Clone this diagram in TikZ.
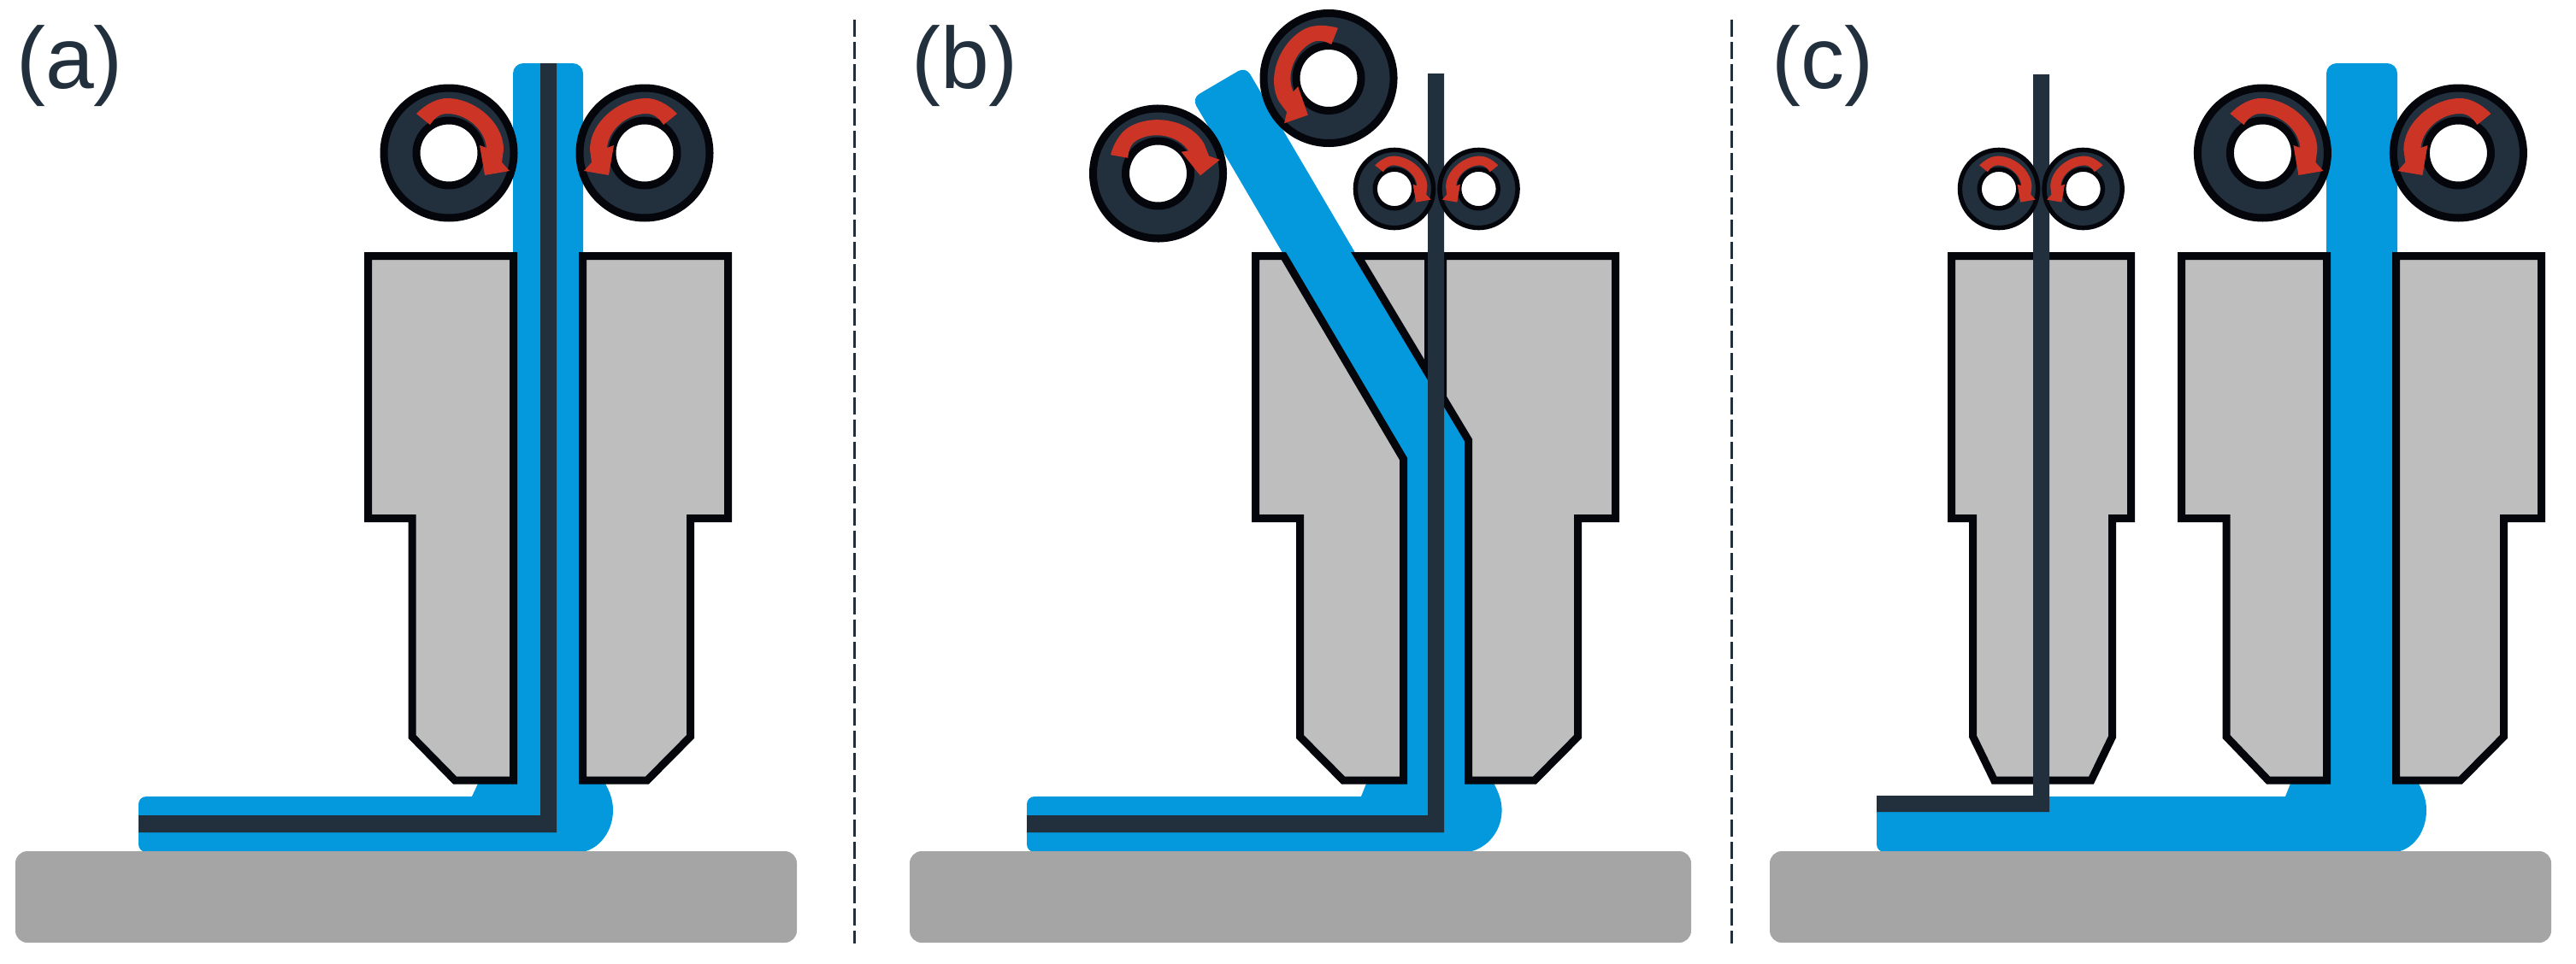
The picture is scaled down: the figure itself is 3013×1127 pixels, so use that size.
\documentclass[tikz,border=0pt]{standalone}
\usepackage{fontspec}
\setmainfont{Liberation Sans}
\definecolor{tape}{HTML}{0399DC}
\definecolor{core}{HTML}{222F3D}
\definecolor{ink}{HTML}{04060C}
\definecolor{steel}{HTML}{BEBEBE}
\definecolor{bedgray}{HTML}{A5A5A5}
\definecolor{wheelred}{HTML}{CC3526}
\tikzset{
  tapefill/.style={fill=tape},
  corefill/.style={fill=core},
  nozzle/.style={fill=steel,draw=ink,line width=9pt,line join=miter,miter limit=10},
  bedbox/.style={fill=bedgray,rounded corners=14pt},
  divider/.style={draw=core,line width=3pt,dash pattern=on 20pt off 6pt},
  panellabel/.style={text=core,font=\fontsize{102pt}{102pt}\selectfont,inner sep=0pt,anchor=base west}
}
% roller: x, y, scale, rotation, xscale sign
\newcommand{\rollerwheel}[5]{%
  \begin{scope}[shift={(#1,#2)},rotate=#4,xscale=#5*#3,yscale=#3]
    \filldraw[fill=core,draw=ink,line width=#3*9pt] (0,0) circle[radius=76];
    \filldraw[fill=white,draw=ink,line width=#3*9pt] (0,0) circle[radius=38];
    \fill[wheelred] (-38,-46) .. controls (-25,-59) and (-12,-64) .. (-2,-64)
      .. controls (30,-64) and (64,-36) .. (64,-4) -- (62,11) -- (71,21) -- (42,26) -- (36,-9) -- (44,-6)
      .. controls (42,-28) and (20,-46) .. (-2,-46) .. controls (-10,-46) and (-16,-42) .. (-22,-33) -- cycle;
  \end{scope}}
\begin{document}
\begin{tikzpicture}[x=1pt,y=-1pt]
\useasboundingbox (0,0) rectangle (3013,1127);
% dividers
\draw[divider] (999.5,23) coordinate (d1a) -- (999.5,1104) coordinate (d1b);
\draw[divider] (2025.5,23) coordinate (d2a) -- (2025.5,1104) coordinate (d2b);
% labels
\node[panellabel] (la) at (19,103) {(a)};
\node[panellabel] (lb) at (1066,103) {(b)};
\node[panellabel] (lc) at (2072,103) {(c)};
% ---------- panel a ----------
\fill[tapefill] (600,920) [rounded corners=12pt] -- (600,74) -- (682,74) [sharp corners] -- (682,920) -- cycle;
\fill[tapefill] (559,917) -- (552,932) [rounded corners=9pt] -- (162,932) -- (162,997) [sharp corners] -- (681,997)
  .. controls (702,993) and (717,972) .. (717,948) .. controls (717,936) and (713,926) .. (708,917) -- cycle;
\fill[bedgray,bedbox] (18,996) rectangle (932,1103);
\draw[nozzle] (430.5,299.5) -- (600.5,299.5) -- (600.5,913) -- (532,913) -- (482,862) -- (482,606.5) -- (430.5,606.5) -- cycle;
\draw[nozzle] (681.5,299.5) -- (851.5,299.5) -- (851.5,606.5) -- (807.5,606.5) -- (807.5,862) -- (757,913) -- (681.5,913) -- cycle;
\fill[corefill] (632,74) -- (651,74) -- (651,974) -- (162,974) -- (162,954) -- (632,954) -- cycle;
\rollerwheel{525}{179}{1}{0}{1}
\rollerwheel{754}{179}{1}{0}{-1}
% ---------- panel b ----------
\fill[tapefill] (1717.5,920) -- (1717.5,521) [rounded corners=10pt] -- (1457,78) -- (1394,115) [sharp corners] -- (1641.5,537) -- (1641.5,920) -- cycle;
\fill[tapefill] (1598,917) -- (1592,932) [rounded corners=9pt] -- (1201,932) -- (1201,997) [sharp corners] -- (1717,997)
  .. controls (1740,993) and (1756.6,972) .. (1756.6,948) .. controls (1756.6,936) and (1752,926) .. (1747.5,917) -- cycle;
\fill[bedgray,bedbox] (1064,996) rectangle (1978,1103);
\draw[nozzle] (1468.5,299.5) -- (1501.4,299.5) -- (1641.5,537) -- (1641.5,913) -- (1571,913) -- (1520.5,862) -- (1520.5,606.5) -- (1468.5,606.5) -- cycle;
\draw[nozzle] (1588,299.5) -- (1670.5,299.5) -- (1670.5,437) -- cycle;
\draw[nozzle] (1687.5,299.5) -- (1889.5,299.5) -- (1889.5,606.5) -- (1845.5,606.5) -- (1845.5,862) -- (1795,913) -- (1717.5,913) -- (1717.5,515) -- (1687.5,465) -- cycle;
\fill[corefill] (1670,86) -- (1689,86) -- (1689,974) -- (1201,974) -- (1201,954) -- (1670,954) -- cycle;
\rollerwheel{1354.5}{203}{1}{29}{1}
\rollerwheel{1554}{91.5}{1}{29}{-1}
\rollerwheel{1631}{221}{0.6}{0}{1}
\rollerwheel{1729.5}{221}{0.6}{0}{-1}
% ---------- panel c ----------
\fill[tapefill] (2721,920) [rounded corners=12pt] -- (2721,74) -- (2804,74) [sharp corners] -- (2804,920) -- cycle;
\fill[tapefill] (2679,917) -- (2673,932) -- (2205,932) [rounded corners=9pt] -- (2195,932) -- (2195,997) [sharp corners] -- (2803,997)
  .. controls (2824,993) and (2838,972) .. (2838,948) .. controls (2838,936) and (2834,926) .. (2829,917) -- cycle;
\fill[bedgray,bedbox] (2070,996) rectangle (2984,1103);
\draw[nozzle] (2282.5,299.5) -- (2492.5,299.5) -- (2492.5,606.5) -- (2470.6,606.5) -- (2470.6,862) -- (2446,913) -- (2332.5,913) -- (2307.7,862) -- (2307.7,606.5) -- (2282.5,606.5) -- cycle;
\draw[nozzle] (2551.5,299.5) -- (2721.5,299.5) -- (2721.5,913) -- (2653,913) -- (2604,862) -- (2604,606.5) -- (2551.5,606.5) -- cycle;
\draw[nozzle] (2802.5,299.5) -- (2972.5,299.5) -- (2972.5,606.5) -- (2928.5,606.5) -- (2928.5,862) -- (2878,913) -- (2802.5,913) -- cycle;
\fill[corefill] (2378,87) -- (2397,87) -- (2397,950) -- (2195,950) -- (2195,931) -- (2378,931) -- cycle;
\rollerwheel{2338}{221}{0.6}{0}{1}
\rollerwheel{2436.6}{221}{0.6}{0}{-1}
\rollerwheel{2646.4}{179}{1}{0}{1}
\rollerwheel{2875.4}{179}{1}{0}{-1}
\end{tikzpicture}
\end{document}
